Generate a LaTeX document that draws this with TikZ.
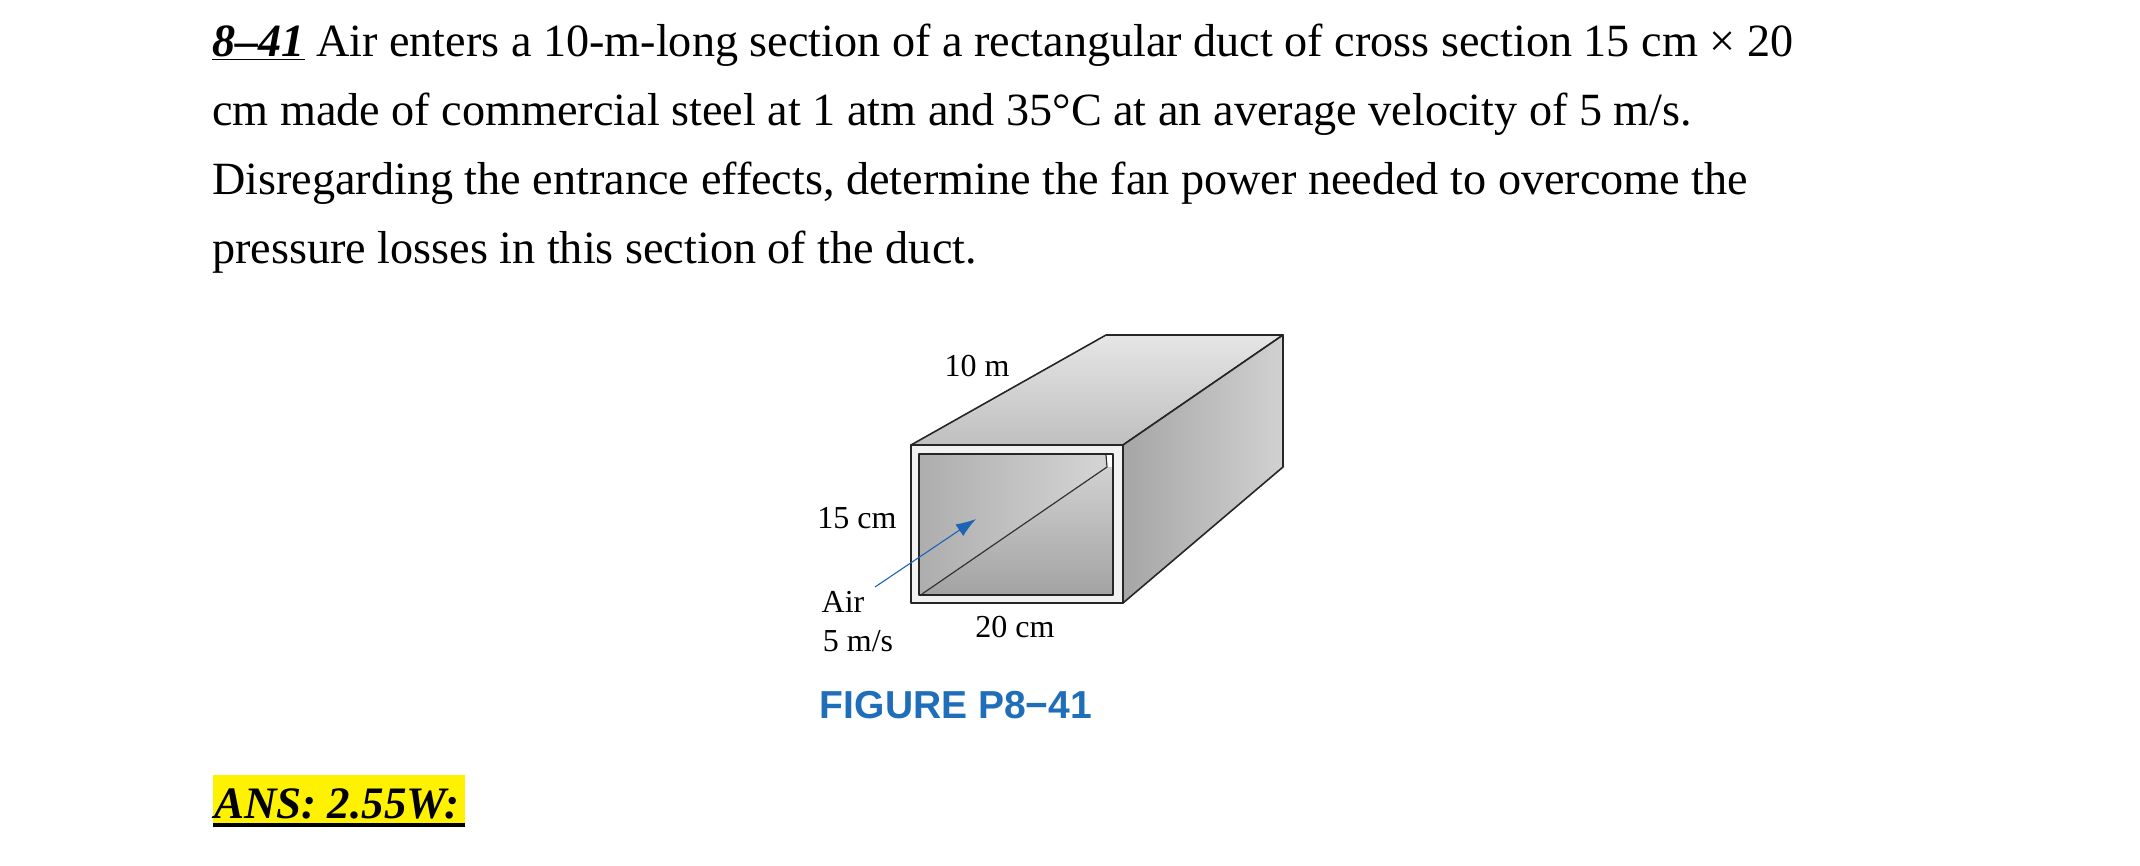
\documentclass[tikz,border=0pt]{standalone}
\usepackage{fontspec}
\setmainfont{Liberation Serif}
\newfontfamily\figsans{Liberation Sans}
\usetikzlibrary{arrows.meta}
\definecolor{arrowblue}{RGB}{30,100,180}
\definecolor{figblue}{RGB}{30,110,185}
\begin{document}
\begin{tikzpicture}[x=1pt,y=-1pt,
  body/.style={anchor=base west,inner sep=0pt,font=\fontsize{46.2}{58}\selectfont},
  lbl/.style={inner sep=0pt,font=\fontsize{32}{38}\selectfont},
  edge/.style={draw=black!85,line width=1.6pt,line join=round}]
\useasboundingbox (0,0) rectangle (2140,866);
\fill[white] (0,0) rectangle (2140,866);
% text
\node[body] (l1) at (212,57) {\underline{\textbf{\textit{8–41}}} Air enters a 10-m-long section of a rectangular duct of cross section 15 cm × 20};
\node[body] (l2) at (212,126) {cm made of commercial steel at 1 atm and 35°C at an average velocity of 5 m/s.};
\node[body] (l3) at (212,195) {Disregarding the entrance effects, determine the fan power needed to overcome the};
\node[body] (l4) at (212,264) {pressure losses in this section of the duct.};
% answer
\fill[yellow] (213,775) rectangle (465,823);
\node[anchor=base west,inner sep=0pt,font=\fontsize{45}{50}\selectfont\bfseries\itshape] (ans) at (214,818) {ANS: 2.55W:};
\fill[black] (213,823) rectangle (465,827);
% duct
\coordinate (A) at (911,445); \coordinate (B) at (1123,445);
\coordinate (C) at (1123,603); \coordinate (D) at (911,603);
\coordinate (E) at (1106,335); \coordinate (F) at (1283,335);
\coordinate (G) at (1283,467);
\shade[top color=black!10,bottom color=black!25,edge] (A) -- (E) -- (F) -- (B) -- cycle;
\shade[left color=black!35,right color=black!18,edge] (B) -- (F) -- (G) -- (C) -- cycle;
\fill[black!5,edge] (A) rectangle (C);
\coordinate (IA) at (919,454); \coordinate (IC) at (1113,595);
\coordinate (IK) at (1107,467);
\shade[left color=black!32,right color=black!16] (IA) rectangle (IC);
\shade[top color=black!18,bottom color=black!36] (922,594) -- (IK) -- (1113,467) -- (1113,594) -- cycle;
\fill[white] (1106,455) rectangle (1112,467);
\draw[edge] (IA) rectangle (IC);
\draw[black!80,line width=1.2pt] (922,594) -- (IK) -- (1106,455);
% arrow
\coordinate (ar0) at (875,587); \coordinate (ar1) at (976,519);
\draw[arrowblue,line width=1.1pt,-{Latex[length=20pt,width=14pt]}] (ar0) -- (ar1);
% labels
\node[lbl] (m10) at (977,366) {10 m};
\node[lbl] (c15) at (857,518) {15 cm};
\node[lbl] (air) at (843,602) {Air};
\node[lbl] (vel) at (858,641) {5 m/s};
\node[lbl] (c20) at (1015,627) {20 cm};
\node[inner sep=0pt,font=\figsans\fontsize{39}{42}\selectfont\bfseries,text=figblue] (fig) at (956,705) {FIGURE P8−41};
\end{tikzpicture}
\end{document}
